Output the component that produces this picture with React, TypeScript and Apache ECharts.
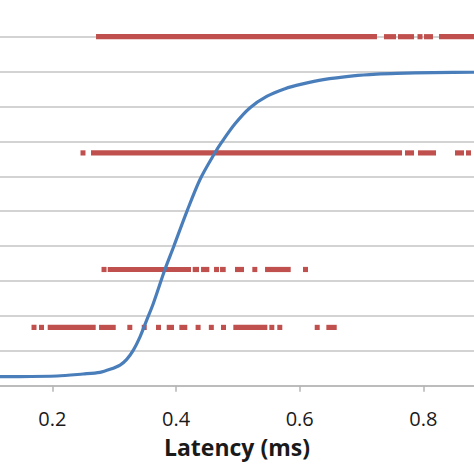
import React, { useEffect, useRef } from "react";
import * as echarts from "echarts";

// CDF curve (latency in ms, cumulative fraction)
const cdfLatency = [0.10, 0.1154, 0.2076, 0.2497, 0.2771, 0.2933, 0.3095, 0.3203, 0.331, 0.3418, 0.3526, 0.3633, 0.3822, 0.396, 0.4176, 0.4388, 0.463, 0.4739, 0.4954, 0.5197, 0.5466, 0.5762, 0.6032, 0.6382, 0.6862, 0.7245, 0.7569, 0.8155, 0.8819, 0.90];
const cdfValue = [0.028, 0.0286, 0.0308, 0.0372, 0.0426, 0.0521, 0.0658, 0.0839, 0.1134, 0.1557, 0.2088, 0.2618, 0.3708, 0.4417, 0.5551, 0.6566, 0.7417, 0.7753, 0.8338, 0.885, 0.921, 0.9455, 0.96, 0.9745, 0.9865, 0.9922, 0.9946, 0.9968, 0.998, 0.998];

// Red sample rows: level on the grid axis, and [start, end] latency runs
const rowLevels = [10, 6.67, 3.33, 1.67];
const rowARuns = [[0.2747, 0.7209], [0.7403, 0.7517], [0.763, 0.7808], [0.7945, 0.7945], [0.805, 0.8115], [0.8293, 0.89]];
const rowBRuns = [[0.2496, 0.2496], [0.2666, 0.7614], [0.7743, 0.7808], [0.7953, 0.8163], [0.8551, 0.8616], [0.8729, 0.8729]];
const rowCRuns = [[0.2836, 0.2836], [0.2936, 0.4202], [0.431, 0.4331], [0.4445, 0.4498], [0.4655, 0.4655], [0.4752, 0.4763], [0.4994, 0.5059], [0.5274, 0.5274], [0.548, 0.5814], [0.6094, 0.6094]];
const rowDRuns = [[0.1704, 0.1704], [0.1825, 0.1825], [0.1966, 0.2661], [0.2796, 0.2985], [0.3253, 0.3253], [0.3486, 0.3486], [0.3717, 0.3717], [0.389, 0.3927], [0.4094, 0.4142], [0.4357, 0.4357], [0.4571, 0.4571], [0.4768, 0.4768], [0.4967, 0.5436], [0.5549, 0.5549], [0.5678, 0.5678], [0.6283, 0.6283], [0.6471, 0.6558]];

const tickLabels = [0.2, 0.4, 0.6, 0.8];
const xMin = 0.1154;
const xMax = 0.8818;
const xName = "Latency (ms)";

export default function App() {
  const ref = useRef<HTMLDivElement>(null);
  useEffect(() => {
    if (!ref.current) return;
    const chart = echarts.init(ref.current, null, { renderer: "svg" });
    const allRuns = [rowARuns, rowBRuns, rowCRuns, rowDRuns];
    const runData: number[][] = [];
    allRuns.forEach((runs, i) => {
      runs.forEach((r) => runData.push([r[0], r[1], rowLevels[i]]));
    });
    const font = "'Open Sans', 'DejaVu Sans', sans-serif";
    chart.setOption({
      animation: false,
      backgroundColor: "#ffffff",
      grid: { left: 0, right: 0, top: 36.7, bottom: 88.3, containLabel: false },
      xAxis: {
        type: "value",
        min: xMin,
        max: xMax,
        name: xName,
        nameLocation: "middle",
        nameGap: 50,
        nameTextStyle: { fontFamily: font, fontWeight: "bold", fontSize: 23, color: "#1a1a1a" },
        axisLine: { show: true, lineStyle: { color: "#b4b4b4", width: 1.5 } },
        axisTick: { show: true, length: 6, customValues: tickLabels, lineStyle: { color: "#b4b4b4", width: 1.5 } },
        axisLabel: {
          margin: 23,
          fontFamily: font,
          fontSize: 20,
          color: "#1a1a1a",
          customValues: tickLabels,
          formatter: (v: number) => v.toFixed(1),
        },
        splitLine: { show: false },
      },
      yAxis: [
        {
          type: "value",
          min: 0,
          max: 10,
          interval: 1,
          axisLine: { show: false },
          axisTick: { show: false },
          axisLabel: { show: false },
          splitLine: { show: true, lineStyle: { color: "#c4c4c4", width: 1.5 } },
        },
        {
          type: "value",
          min: 0,
          max: 10 / 9,
          axisLine: { show: false },
          axisTick: { show: false },
          axisLabel: { show: false },
          splitLine: { show: false },
        },
      ],
      series: [
        {
          type: "custom",
          yAxisIndex: 0,
          z: 2,
          clip: false,
          data: runData,
          renderItem: (params: any, api: any) => {
            const s = api.coord([api.value(0), api.value(2)]);
            const e = api.coord([api.value(1), api.value(2)]);
            return {
              type: "rect",
              shape: { x: s[0] - 2.5, y: s[1] - 2.6, width: e[0] - s[0] + 5, height: 5.2 },
              style: { fill: "#c0504d" },
            };
          },
        },
        {
          type: "line",
          yAxisIndex: 1,
          z: 3,
          smooth: 0.3,
          showSymbol: false,
          symbol: "none",
          lineStyle: { color: "#4a7ebb", width: 3.2 },
          data: cdfLatency.map((x, i) => [x, cdfValue[i]]),
        },
      ],
    });
    return () => chart.dispose();
  }, []);
  return <div ref={ref} style={{ width: 474, height: 474, position: "absolute", left: 0, top: 0 }} />;
}
